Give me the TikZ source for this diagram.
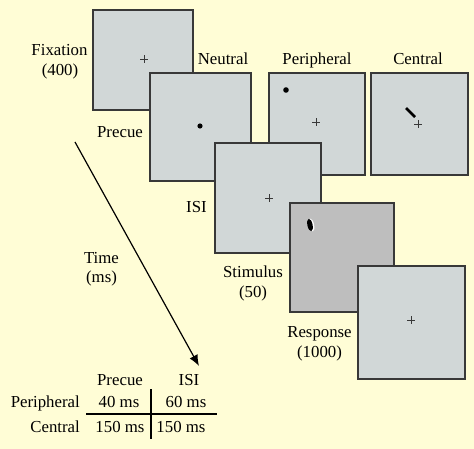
\documentclass[tikz,border=0pt]{standalone}
\usepackage{fontspec}
\setmainfont{Liberation Serif}
\usetikzlibrary{arrows.meta}
\definecolor{bgyellow}{HTML}{FFFDD6}
\definecolor{panelgray}{HTML}{D1D7D7}
\definecolor{stimgray}{HTML}{BEBEBE}
\definecolor{edgegray}{HTML}{383838}
\tikzset{
  panel/.style={draw=edgegray, fill=panelgray, line width=1.7pt, inner sep=0pt, anchor=north west},
  lbl/.style={font=\fontsize{16.8}{20}\selectfont, anchor=base, inner sep=0pt},
  lblr/.style={lbl, anchor=base east},
  fixcross/.pic={\draw[line width=0.9pt, edgegray] (-3.7pt,0)--(3.7pt,0) (0,-3.7pt)--(0,3.7pt);},
  tabline/.style={line width=1.1pt, black}
}
\begin{document}
\begin{tikzpicture}[x=1pt,y=-1pt]
\fill[bgyellow] (0,0) rectangle (474,449);
\useasboundingbox (0,0) rectangle (474,449);

% panels (back to front)
\node[panel, minimum width=100pt, minimum height=100pt] (fix) at (92,9) {};
\pic at (144,59) {fixcross};
\node[panel, minimum width=101pt, minimum height=108pt] (pre) at (149,72) {};
\fill[black] (200,126) circle (2.6pt);
\node[panel, minimum width=96pt, minimum height=102pt] (per) at (268,72) {};
\fill[black] (286,90) circle (2.8pt);
\pic at (316,122) {fixcross};
\node[panel, minimum width=97pt, minimum height=102pt] (cen) at (370,72) {};
\draw[line width=2.6pt, black] (406,108) -- (415,117);
\pic at (418,124) {fixcross};
\node[panel, minimum width=106pt, minimum height=110pt] (isi) at (214,142) {};
\pic at (269,198) {fixcross};
\node[panel, fill=stimgray, minimum width=104pt, minimum height=109pt] (stim) at (289,202) {};
\fill[white, rotate around={12:(311.5,225)}] (311.5,225) ellipse (2.6pt and 6.5pt);
\fill[black, rotate around={12:(310,225)}] (310,225) ellipse (2.6pt and 6.3pt);
\node[panel, minimum width=107pt, minimum height=113pt] (resp) at (357,265) {};
\pic at (411,320) {fixcross};

% labels
\node[lbl] (lfix) at (59.5,56) {Fixation};
\node[lbl] (lfixn) at (60,76) {(400)};
\node[lbl] (lneu) at (223,65) {Neutral};
\node[lbl] (lpre) at (120,138) {Precue};
\node[lbl] (lper) at (317,65) {Peripheral};
\node[lbl] (lcen) at (418,65) {Central};
\node[lbl] (lisi) at (196.5,213) {ISI};
\node[lbl] (lstim) at (253,277) {Stimulus};
\node[lbl] (lstimn) at (253,297) {(50)};
\node[lbl] (lresp) at (319.5,337) {Response};
\node[lbl] (lrespn) at (319.5,357) {(1000)};
\node[lbl] (ltime) at (101.5,263) {Time};
\node[lbl] (ltimen) at (101.5,283) {(ms)};

% time arrow
\coordinate (tstart) at (75,142);
\coordinate (tend) at (199,366);
\draw[line width=1.2pt, -{Latex[length=11pt,width=9pt]}] (tstart) -- (tend);

% table
\node[lbl] (hpre) at (120,385) {Precue};
\node[lbl] (hisi) at (189,385) {ISI};
\node[lblr] (rper) at (80,407) {Peripheral};
\node[lblr] (rcen) at (80,432) {Central};
\node[lbl] (c11) at (119,407) {40 ms};
\node[lbl] (c12) at (186,407) {60 ms};
\node[lbl] (c21) at (120,432) {150 ms};
\node[lbl] (c22) at (181,432) {150 ms};
\coordinate (hl) at (86,414);
\coordinate (hr) at (217,414);
\coordinate (vt) at (151,389);
\coordinate (vb) at (151,439);
\draw[tabline] (hl) -- (hr);
\draw[tabline] (vt) -- (vb);
\end{tikzpicture}
\end{document}
